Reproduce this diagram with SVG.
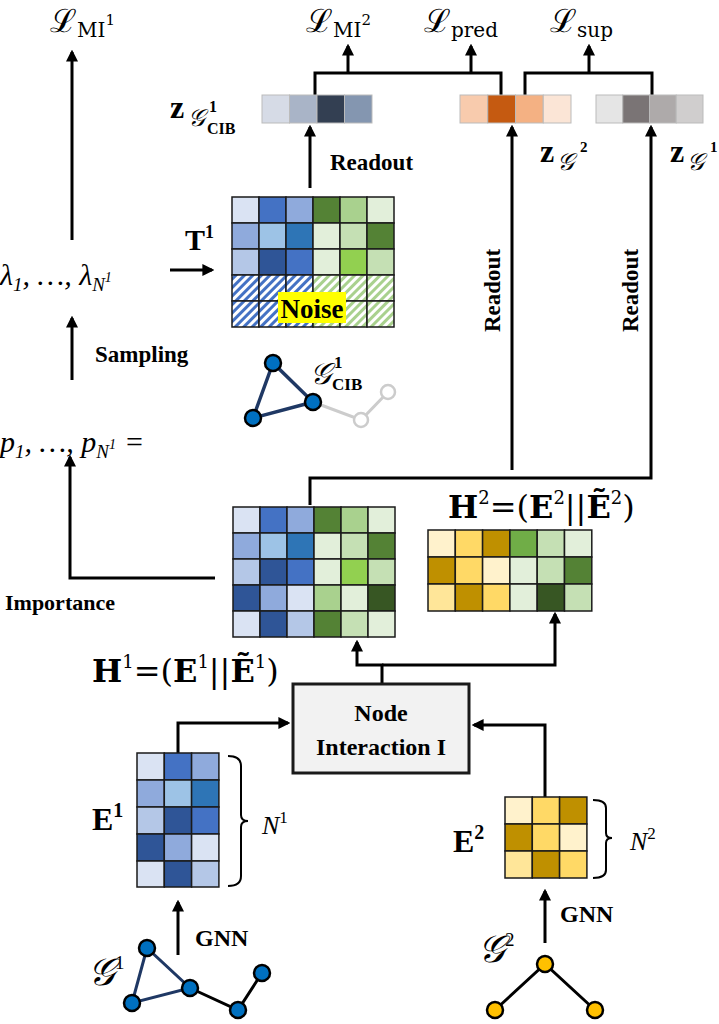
<svg xmlns="http://www.w3.org/2000/svg" width="719" height="1024" viewBox="0 0 719 1024">
<style>
.c{stroke:#1a1a1a;stroke-width:1.5}
.ln{fill:none;stroke:#000;stroke-width:3}
.b{font-family:"Liberation Serif",serif;font-weight:bold;fill:#000}
.m{font-family:"DejaVu Serif","Liberation Serif",serif;fill:#000}
.i{font-family:"Liberation Serif",serif;font-style:italic;fill:#000}
.v{stroke:#bbb;stroke-width:1}
</style>
<defs>
<marker id="a" viewBox="0 0 10 10" refX="8" refY="5" markerWidth="4" markerHeight="4" orient="auto"><path d="M0,0L10,5L0,10z" fill="#000"/></marker>
<pattern id="pb" width="6" height="6" patternUnits="userSpaceOnUse" patternTransform="rotate(45)"><rect width="6" height="6" fill="#fff"/><rect width="3" height="6" fill="#4472c4"/></pattern>
<pattern id="pg" width="6" height="6" patternUnits="userSpaceOnUse" patternTransform="rotate(45)"><rect width="6" height="6" fill="#fff"/><rect width="3" height="6" fill="#a9d18e"/></pattern>
</defs>

<g id="connectors" class="ln">
<path d="M72,240V52" marker-end="url(#a)"/>
<path d="M170,270H212" marker-end="url(#a)"/>
<path d="M72,380V318" marker-end="url(#a)"/>
<path d="M215,578H70V457" marker-end="url(#a)"/>
<path d="M310,188V127" marker-end="url(#a)"/>
<path d="M310,505V478H651V127" marker-end="url(#a)"/>
<path d="M512,470V127" marker-end="url(#a)"/>
<path d="M315,95V73H501V95"/>
<path d="M348,73V46" marker-end="url(#a)"/>
<path d="M471,73V46" marker-end="url(#a)"/>
<path d="M525,95V73H652V95"/>
<path d="M589,73V46" marker-end="url(#a)"/>
<path d="M382,683V665H357V642" marker-end="url(#a)"/>
<path d="M382,665H555V614" marker-end="url(#a)"/>
<path d="M178,753V723H288" marker-end="url(#a)"/>
<path d="M545,797V725H474" marker-end="url(#a)"/>
<path d="M178,955V902" marker-end="url(#a)"/>
<path d="M545,943V891" marker-end="url(#a)"/>
</g>

<g id="losses">
<text x="50" y="32" class="m" font-size="32">ℒ<tspan font-size="20" dy="5">MI</tspan><tspan font-size="15" dy="-12">1</tspan></text>
<text x="306" y="32" class="m" font-size="32">ℒ<tspan font-size="20" dy="5">MI</tspan><tspan font-size="15" dy="-12">2</tspan></text>
<text x="424" y="32" class="m" font-size="32">ℒ<tspan font-size="20" dy="5">pred</tspan></text>
<text x="550" y="32" class="m" font-size="32">ℒ<tspan font-size="20" dy="5">sup</tspan></text>
</g>

<g id="z-cib">
<rect x="262" y="95" width="27.5" height="28" fill="#d6dbe6" class="v"/>
<rect x="289.5" y="95" width="27.5" height="28" fill="#a9b4c7" class="v"/>
<rect x="317" y="95" width="27.5" height="28" fill="#333f52" class="v"/>
<rect x="344.5" y="95" width="27.5" height="28" fill="#8496b0" class="v"/>
<text x="170" y="118" class="b" font-size="32">z</text>
<text x="188" y="126" class="i" font-size="24">𝒢</text>
<text x="209" y="112" class="b" font-size="16">1</text>
<text x="207" y="134" class="b" font-size="16">CIB</text>
</g>
<g id="z-g2">
<rect x="460" y="95" width="27.75" height="28" fill="#f8cbad" class="v"/>
<rect x="487.75" y="95" width="27.75" height="28" fill="#c55a11" class="v"/>
<rect x="515.5" y="95" width="27.75" height="28" fill="#f4b183" class="v"/>
<rect x="543.25" y="95" width="27.75" height="28" fill="#fbe5d6" class="v"/>
<text x="540" y="162" class="b" font-size="32">z</text>
<text x="557" y="170" class="i" font-size="24">𝒢</text>
<text x="580" y="152" class="b" font-size="15">2</text>
</g>
<g id="z-g1">
<rect x="596" y="95" width="26.75" height="28" fill="#e5e5e5" class="v"/>
<rect x="622.75" y="95" width="26.75" height="28" fill="#7a7475" class="v"/>
<rect x="649.5" y="95" width="26.75" height="28" fill="#aeaaaa" class="v"/>
<rect x="676.25" y="95" width="26.75" height="28" fill="#d0cece" class="v"/>
<text x="670" y="162" class="b" font-size="32">z</text>
<text x="687" y="170" class="i" font-size="24">𝒢</text>
<text x="710" y="152" class="b" font-size="15">1</text>
</g>

<g id="labels">
<text x="330" y="170" class="b" font-size="23">Readout</text>
<text transform="translate(500,332) rotate(-90)" class="b" font-size="23">Readout</text>
<text transform="translate(638,332) rotate(-90)" class="b" font-size="23">Readout</text>
<text x="95" y="362" class="b" font-size="23">Sampling</text>
<text x="5" y="610" class="b" font-size="22">Importance</text>
<text x="0" y="285" class="i" font-size="30">λ<tspan font-size="19" dy="6">1</tspan><tspan dy="-6">, …, λ</tspan><tspan font-size="19" dy="6">N</tspan><tspan font-size="14" dy="-9">1</tspan></text>
<text x="0" y="452" class="i" font-size="30">p<tspan font-size="19" dy="6">1</tspan><tspan dy="-6">, …, p</tspan><tspan font-size="19" dy="6">N</tspan><tspan font-size="14" dy="-9">1</tspan><tspan dy="3" font-style="normal" dx="10">=</tspan></text>
<text x="185" y="250" class="b" font-size="30">T<tspan font-size="18" dy="-12">1</tspan></text>
</g>

<g id="T1" class="c">
<rect x="232" y="197" width="27" height="26" fill="#dae3f3"/><rect x="259" y="197" width="27" height="26" fill="#4472c4"/><rect x="286" y="197" width="27" height="26" fill="#8faadc"/><rect x="313" y="197" width="27" height="26" fill="#548235"/><rect x="340" y="197" width="27" height="26" fill="#a9d18e"/><rect x="367" y="197" width="27" height="26" fill="#e2efda"/>
<rect x="232" y="223" width="27" height="26" fill="#8faadc"/><rect x="259" y="223" width="27" height="26" fill="#9dc3e6"/><rect x="286" y="223" width="27" height="26" fill="#2e75b6"/><rect x="313" y="223" width="27" height="26" fill="#e2efda"/><rect x="340" y="223" width="27" height="26" fill="#c5e0b4"/><rect x="367" y="223" width="27" height="26" fill="#548235"/>
<rect x="232" y="249" width="27" height="26" fill="#b4c7e7"/><rect x="259" y="249" width="27" height="26" fill="#2f5597"/><rect x="286" y="249" width="27" height="26" fill="#4472c4"/><rect x="313" y="249" width="27" height="26" fill="#e2efda"/><rect x="340" y="249" width="27" height="26" fill="#92d050"/><rect x="367" y="249" width="27" height="26" fill="#c5e0b4"/>
<rect x="232" y="275" width="27" height="26" fill="url(#pb)"/><rect x="259" y="275" width="27" height="26" fill="url(#pb)"/><rect x="286" y="275" width="27" height="26" fill="url(#pb)"/><rect x="313" y="275" width="27" height="26" fill="url(#pg)"/><rect x="340" y="275" width="27" height="26" fill="url(#pg)"/><rect x="367" y="275" width="27" height="26" fill="url(#pg)"/>
<rect x="232" y="301" width="27" height="26" fill="url(#pb)"/><rect x="259" y="301" width="27" height="26" fill="url(#pb)"/><rect x="286" y="301" width="27" height="26" fill="url(#pb)"/><rect x="313" y="301" width="27" height="26" fill="url(#pg)"/><rect x="340" y="301" width="27" height="26" fill="url(#pg)"/><rect x="367" y="301" width="27" height="26" fill="url(#pg)"/>
<rect x="278" y="292" width="68" height="31" fill="#ffff00" stroke="none"/>
<text x="312" y="318" class="b" font-size="27" text-anchor="middle" stroke="none">Noise</text>
</g>

<g id="G-CIB">
<path d="M388,392L361,420L313,402" fill="none" stroke="#ccc" stroke-width="3"/>
<circle cx="361" cy="420" r="7" fill="#fff" stroke="#ccc" stroke-width="2.5"/>
<circle cx="388" cy="392" r="7" fill="#fff" stroke="#ccc" stroke-width="2.5"/>
<path d="M273,363L253,418L313,402Z" fill="none" stroke="#1f3864" stroke-width="3.5"/>
<circle cx="273" cy="363" r="8" fill="#0070c0" stroke="#000" stroke-width="2.5"/>
<circle cx="253" cy="418" r="8" fill="#0070c0" stroke="#000" stroke-width="2.5"/>
<circle cx="313" cy="402" r="8" fill="#0070c0" stroke="#000" stroke-width="2.5"/>
<text x="310" y="384" class="i" font-size="30">𝒢</text>
<text x="334" y="368" class="b" font-size="17">1</text>
<text x="332" y="390" class="b" font-size="17">CIB</text>
</g>

<g id="H1" class="c">
<rect x="233" y="507" width="27" height="26" fill="#dae3f3"/><rect x="260" y="507" width="27" height="26" fill="#4472c4"/><rect x="287" y="507" width="27" height="26" fill="#8faadc"/><rect x="314" y="507" width="27" height="26" fill="#548235"/><rect x="341" y="507" width="27" height="26" fill="#a9d18e"/><rect x="368" y="507" width="27" height="26" fill="#e2efda"/>
<rect x="233" y="533" width="27" height="26" fill="#8faadc"/><rect x="260" y="533" width="27" height="26" fill="#9dc3e6"/><rect x="287" y="533" width="27" height="26" fill="#2e75b6"/><rect x="314" y="533" width="27" height="26" fill="#e2efda"/><rect x="341" y="533" width="27" height="26" fill="#c5e0b4"/><rect x="368" y="533" width="27" height="26" fill="#548235"/>
<rect x="233" y="559" width="27" height="26" fill="#b4c7e7"/><rect x="260" y="559" width="27" height="26" fill="#2f5597"/><rect x="287" y="559" width="27" height="26" fill="#4472c4"/><rect x="314" y="559" width="27" height="26" fill="#e2efda"/><rect x="341" y="559" width="27" height="26" fill="#92d050"/><rect x="368" y="559" width="27" height="26" fill="#c5e0b4"/>
<rect x="233" y="585" width="27" height="26" fill="#2f5597"/><rect x="260" y="585" width="27" height="26" fill="#8faadc"/><rect x="287" y="585" width="27" height="26" fill="#dae3f3"/><rect x="314" y="585" width="27" height="26" fill="#a9d18e"/><rect x="341" y="585" width="27" height="26" fill="#e2efda"/><rect x="368" y="585" width="27" height="26" fill="#375623"/>
<rect x="233" y="611" width="27" height="26" fill="#dae3f3"/><rect x="260" y="611" width="27" height="26" fill="#2f5597"/><rect x="287" y="611" width="27" height="26" fill="#b4c7e7"/><rect x="314" y="611" width="27" height="26" fill="#548235"/><rect x="341" y="611" width="27" height="26" fill="#c5e0b4"/><rect x="368" y="611" width="27" height="26" fill="#e2efda"/>
<text x="92" y="682" class="m" font-size="32" stroke="none"><tspan font-weight="bold">H</tspan><tspan font-size="18" dy="-14">1</tspan><tspan dy="14">=(</tspan><tspan font-weight="bold">E</tspan><tspan font-size="18" dy="-14">1</tspan><tspan dy="14">||</tspan><tspan font-weight="bold">Ẽ</tspan><tspan font-size="18" dy="-14">1</tspan><tspan dy="14">)</tspan></text>
</g>

<g id="H2" class="c">
<rect x="428" y="530" width="27.3" height="27" fill="#fff2cc"/><rect x="455.3" y="530" width="27.3" height="27" fill="#ffd966"/><rect x="482.6" y="530" width="27.3" height="27" fill="#bf9000"/><rect x="509.9" y="530" width="27.3" height="27" fill="#70ad47"/><rect x="537.2" y="530" width="27.3" height="27" fill="#c5e0b4"/><rect x="564.5" y="530" width="27.3" height="27" fill="#e2efda"/>
<rect x="428" y="557" width="27.3" height="27" fill="#bf9000"/><rect x="455.3" y="557" width="27.3" height="27" fill="#ffd966"/><rect x="482.6" y="557" width="27.3" height="27" fill="#fff2cc"/><rect x="509.9" y="557" width="27.3" height="27" fill="#e2efda"/><rect x="537.2" y="557" width="27.3" height="27" fill="#c5e0b4"/><rect x="564.5" y="557" width="27.3" height="27" fill="#548235"/>
<rect x="428" y="584" width="27.3" height="27" fill="#ffe699"/><rect x="455.3" y="584" width="27.3" height="27" fill="#bf9000"/><rect x="482.6" y="584" width="27.3" height="27" fill="#ffd966"/><rect x="509.9" y="584" width="27.3" height="27" fill="#e2efda"/><rect x="537.2" y="584" width="27.3" height="27" fill="#375623"/><rect x="564.5" y="584" width="27.3" height="27" fill="#c5e0b4"/>
<text x="448" y="518" class="m" font-size="32" stroke="none"><tspan font-weight="bold">H</tspan><tspan font-size="18" dy="-14">2</tspan><tspan dy="14">=(</tspan><tspan font-weight="bold">E</tspan><tspan font-size="18" dy="-14">2</tspan><tspan dy="14">||</tspan><tspan font-weight="bold">Ẽ</tspan><tspan font-size="18" dy="-14">2</tspan><tspan dy="14">)</tspan></text>
</g>

<g id="node-interaction">
<rect x="293" y="684" width="176" height="89" fill="#f2f2f2" stroke="#1a1a1a" stroke-width="3"/>
<text x="381" y="721" class="b" font-size="24" text-anchor="middle">Node</text>
<text x="381" y="755" class="b" font-size="24" text-anchor="middle">Interaction I</text>
</g>

<g id="E1" class="c">
<rect x="137" y="753" width="27.3" height="27" fill="#dae3f3"/><rect x="164.3" y="753" width="27.3" height="27" fill="#4472c4"/><rect x="191.6" y="753" width="27.3" height="27" fill="#8faadc"/>
<rect x="137" y="780" width="27.3" height="27" fill="#8faadc"/><rect x="164.3" y="780" width="27.3" height="27" fill="#9dc3e6"/><rect x="191.6" y="780" width="27.3" height="27" fill="#2e75b6"/>
<rect x="137" y="807" width="27.3" height="27" fill="#b4c7e7"/><rect x="164.3" y="807" width="27.3" height="27" fill="#2f5597"/><rect x="191.6" y="807" width="27.3" height="27" fill="#4472c4"/>
<rect x="137" y="834" width="27.3" height="27" fill="#2f5597"/><rect x="164.3" y="834" width="27.3" height="27" fill="#8faadc"/><rect x="191.6" y="834" width="27.3" height="27" fill="#dae3f3"/>
<rect x="137" y="861" width="27.3" height="26" fill="#dae3f3"/><rect x="164.3" y="861" width="27.3" height="26" fill="#2f5597"/><rect x="191.6" y="861" width="27.3" height="26" fill="#b4c7e7"/>
<path d="M228,756Q241,756 241,766V815Q241,821 248,821Q241,821 241,827V876Q241,886 228,886" fill="none" stroke="#000" stroke-width="2"/>
<text x="262" y="834" class="i" font-size="26" stroke="none">N<tspan font-size="17" dy="-11" font-style="normal">1</tspan></text>
<text x="92" y="830" class="b" font-size="32" stroke="none">E<tspan font-size="20" dy="-13">1</tspan></text>
</g>

<g id="E2" class="c">
<rect x="505" y="797" width="27.3" height="27" fill="#fff2cc"/><rect x="532.3" y="797" width="27.3" height="27" fill="#ffd966"/><rect x="559.6" y="797" width="27.3" height="27" fill="#bf9000"/>
<rect x="505" y="824" width="27.3" height="27" fill="#bf9000"/><rect x="532.3" y="824" width="27.3" height="27" fill="#ffd966"/><rect x="559.6" y="824" width="27.3" height="27" fill="#fff2cc"/>
<rect x="505" y="851" width="27.3" height="27" fill="#ffe699"/><rect x="532.3" y="851" width="27.3" height="27" fill="#bf9000"/><rect x="559.6" y="851" width="27.3" height="27" fill="#ffd966"/>
<path d="M593,800Q606,800 606,808V833Q606,838 612,838Q606,838 606,843V870Q606,878 593,878" fill="none" stroke="#000" stroke-width="2"/>
<text x="630" y="850" class="i" font-size="26" stroke="none">N<tspan font-size="17" dy="-11" font-style="normal">2</tspan></text>
<text x="453" y="852" class="b" font-size="32" stroke="none">E<tspan font-size="20" dy="-13">2</tspan></text>
</g>

<g id="G1">
<text x="195" y="946" class="b" font-size="24">GNN</text>
<text x="88" y="985" class="i" font-size="38">𝒢<tspan font-size="19" dy="-16" font-style="normal">1</tspan></text>
<path d="M190,988L238,1010L262,973" fill="none" stroke="#000" stroke-width="3"/>
<path d="M147,948L132,1003L190,988Z" fill="none" stroke="#1f3864" stroke-width="3"/>
<circle cx="147" cy="948" r="8" fill="#0070c0" stroke="#000" stroke-width="2.5"/>
<circle cx="132" cy="1003" r="8" fill="#0070c0" stroke="#000" stroke-width="2.5"/>
<circle cx="190" cy="988" r="8" fill="#0070c0" stroke="#000" stroke-width="2.5"/>
<circle cx="238" cy="1010" r="8" fill="#0070c0" stroke="#000" stroke-width="2.5"/>
<circle cx="262" cy="973" r="8" fill="#0070c0" stroke="#000" stroke-width="2.5"/>
</g>

<g id="G2">
<text x="560" y="922" class="b" font-size="24">GNN</text>
<text x="478" y="962" class="i" font-size="38">𝒢<tspan font-size="19" dy="-16" font-style="normal">2</tspan></text>
<path d="M495,1010L545,964L595,1010" fill="none" stroke="#000" stroke-width="3"/>
<circle cx="545" cy="964" r="8" fill="#ffc000" stroke="#000" stroke-width="2.5"/>
<circle cx="495" cy="1010" r="8" fill="#ffc000" stroke="#000" stroke-width="2.5"/>
<circle cx="595" cy="1010" r="8" fill="#ffc000" stroke="#000" stroke-width="2.5"/>
</g>
</svg>
